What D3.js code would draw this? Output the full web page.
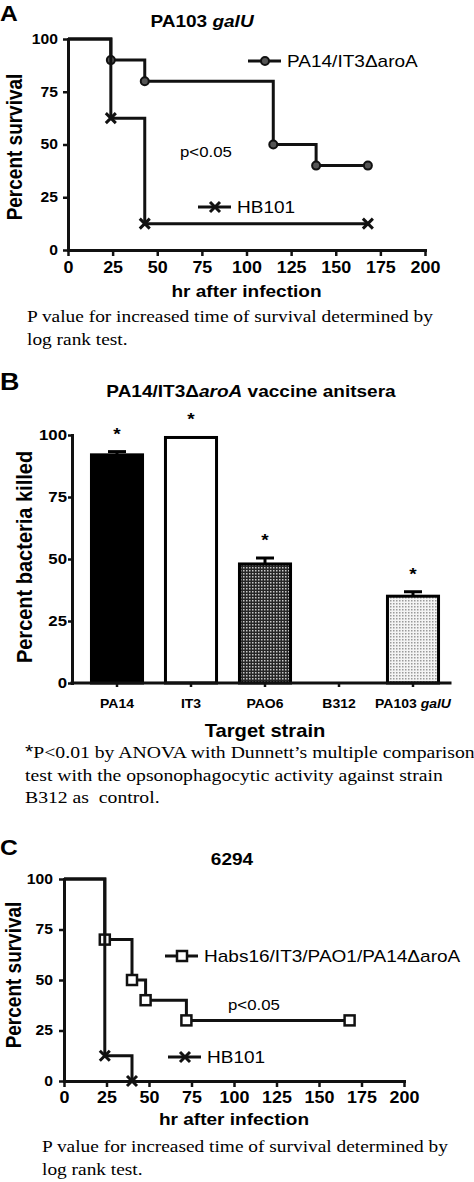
<!DOCTYPE html>
<html lang="en">
<head>
<meta charset="UTF-8"/>
<title>Survival and opsonophagocytic killing</title>
<script src="https://d3js.org/d3.v7.min.js"></script>
<style>
  body { margin: 0; background: #fff; }
  svg { display: block; }
  text { white-space: pre; }
</style>
</head>
<body>
<script>
// ---- panel A : PA103 galU challenge ----
var hoursA_pa14 = [0, 24, 43, 115, 139, 168];
var survA_pa14 = [100, 90, 80, 50, 40, 40];
var hoursA_hb101 = [0, 24, 43, 168];
var survA_hb101 = [100, 62.5, 12.5, 12.5];

// ---- panel B : vaccine antisera killing ----
var strains = ["PA14", "IT3", "PAO6", "B312", "PA103 galU"];
var killed = [92, 99, 48, 0, 35];
var killedErr = [1.3, 0, 2.4, 0, 1.8];
var significant = [true, true, true, false, true];

// ---- panel C : 6294 challenge ----
var hoursC_habs = [0, 24, 40, 48, 72, 168];
var survC_habs = [100, 70, 50, 40, 30, 30];
var hoursC_hb101 = [0, 24, 40];
var survC_hb101 = [100, 12.5, 0];

var hourTicks = [0, 25, 50, 75, 100, 125, 150, 175, 200];
var pctTicks = [0, 25, 50, 75, 100];

var W = 474, H = 1182;
var SX = 1.12;   // the source figure is a little stretched sideways
var SANS = "'Liberation Sans', Arial, sans-serif";
var SERIF = "'Liberation Serif', 'Times New Roman', serif";
var INK = "#111";

var svg = d3.select("body").append("svg")
    .attr("width", W)
    .attr("height", H);

var defs = svg.append("defs");
function dotPattern(id, bg, dot) {
    var p = defs.append("pattern")
        .attr("id", id)
        .attr("width", 3).attr("height", 3)
        .attr("patternUnits", "userSpaceOnUse");
    p.append("rect").attr("width", 3).attr("height", 3).attr("fill", bg);
    p.append("rect").attr("width", 1.5).attr("height", 1.5).attr("fill", dot);
}
dotPattern("darkDots", "#262626", "#c8c8c8");
dotPattern("lightDots", "#f4f4f4", "#9a9a9a");
var barFills = ["#000", "#fff", "url(#darkDots)", "#fff", "url(#lightDots)"];

// text helper: parts = string or [[str, italic, family, size], ...]
function txt(g, x, y, parts, size, opt) {
    opt = opt || {};
    var tf = "translate(" + x + "," + y + ") scale(" + SX + ",1)";
    if (opt.rotate) tf += " rotate(-90)";
    var t = g.append("text")
        .attr("transform", tf)
        .attr("font-family", opt.serif ? SERIF : SANS)
        .attr("font-size", size)
        .attr("font-weight", opt.bold ? "bold" : "normal")
        .attr("text-anchor", opt.anchor || "start")
        .attr("fill", "#000");
    if (typeof parts === "string") parts = [[parts, false]];
    parts.forEach(function (p) {
        var s = t.append("tspan").text(p[0]);
        if (p[1]) s.attr("font-style", "italic");
        if (p[2]) s.attr("font-family", p[2]);
        if (p[3]) s.attr("font-size", p[3]);
    });
    return t;
}

function styleAxis(a, size, orient, gap) {
    a.select(".domain").attr("stroke", INK).attr("stroke-width", 3)
        .attr("stroke-linecap", "square");
    a.selectAll(".tick line").attr("stroke", INK).attr("stroke-width", 2.5);
    var t = a.selectAll(".tick text")
        .attr("fill", "#000")
        .attr("font-family", SANS)
        .attr("font-weight", "bold")
        .attr("font-size", size)
        .attr("transform", "scale(" + SX + ",1)");
    if (orient === "left") t.attr("x", -gap / SX);
    else t.attr("y", gap).attr("dy", null);
}

function marker(g, type, cx, cy) {
    if (type === "circle") {
        g.append("circle").attr("cx", cx).attr("cy", cy).attr("r", 4)
            .attr("fill", "#555").attr("stroke", INK).attr("stroke-width", 2);
    } else if (type === "cross") {
        g.append("path")
            .attr("d", "M" + (cx - 5) + "," + (cy - 5) + "L" + (cx + 5) + "," + (cy + 5) +
                       "M" + (cx - 5) + "," + (cy + 5) + "L" + (cx + 5) + "," + (cy - 5))
            .attr("stroke", INK).attr("stroke-width", 3).attr("fill", "none");
    } else {
        g.append("rect").attr("x", cx - 5).attr("y", cy - 5)
            .attr("width", 10).attr("height", 10)
            .attr("fill", "#fff").attr("stroke", INK).attr("stroke-width", 2.5);
    }
}

function survivalPanel(cfg) {
    var g = svg.append("g");
    var x = d3.scaleLinear().domain([0, 200]).range([cfg.x0, cfg.x1]);
    var y = d3.scaleLinear().domain([0, 100]).range([cfg.y0, cfg.y1]);

    var ax = g.append("g").attr("transform", "translate(0," + cfg.y0 + ")")
        .call(d3.axisBottom(x).tickValues(hourTicks).tickSize(6).tickSizeOuter(0));
    styleAxis(ax, 16, "bottom", cfg.xLabelGap);
    var ay = g.append("g").attr("transform", "translate(" + cfg.x0 + ",0)")
        .call(d3.axisLeft(y).tickValues(pctTicks).tickSize(5).tickSizeOuter(0));
    styleAxis(ay, 14, "left", cfg.yLabelGap);

    var line = d3.line()
        .x(function (d) { return x(d[0]); })
        .y(function (d) { return y(d[1]); })
        .curve(d3.curveStepAfter);

    cfg.series.forEach(function (s) {
        var pts = d3.zip(s.hours, s.surv);
        g.append("path").datum(pts)
            .attr("d", line)
            .attr("fill", "none")
            .attr("stroke", INK)
            .attr("stroke-width", 3);
        pts.slice(1).forEach(function (p) { marker(g, s.marker, x(p[0]), y(p[1])); });
        // legend entry
        var lg = s.legend;
        g.append("line").attr("x1", lg.x).attr("x2", lg.x + 33)
            .attr("y1", lg.y).attr("y2", lg.y)
            .attr("stroke", INK).attr("stroke-width", 3);
        marker(g, s.marker, lg.x + 17, lg.y);
        txt(g, lg.x + 39, lg.y + 6, s.name, 17);
    });

    txt(g, cfg.p[0], cfg.p[1], "p<0.05", 15);
    txt(g, cfg.title[0], cfg.title[1], cfg.titleText, 17, { bold: true, anchor: "middle" });
    txt(g, cfg.letter[0], cfg.letter[1], cfg.letterText, cfg.letterSize, { bold: true });
    txt(g, (cfg.x0 + cfg.x1) / 2, cfg.xTitleY, "hr after infection", 17, { bold: true, anchor: "middle" });
    txt(g, cfg.yTitle[0], cfg.yTitle[1], "Percent survival", 19, { bold: true, anchor: "middle", rotate: true });
    cfg.caption.forEach(function (c) { txt(g, c[0], c[1], c[2], 17.3, { serif: true }); });
}

// ---------- panel A ----------
survivalPanel({
    x0: 68, x1: 425, y0: 250, y1: 39,
    xLabelGap: 23, yLabelGap: 10,
    series: [
        { hours: hoursA_pa14, surv: survA_pa14, marker: "circle", name: "PA14/IT3\u0394aroA", legend: { x: 248, y: 61 } },
        { hours: hoursA_hb101, surv: survA_hb101, marker: "cross", name: "HB101", legend: { x: 198, y: 207 } }
    ],
    p: [180, 157],
    title: [202, 27], titleText: [["PA103 ", false], ["galU", true]],
    letter: [0, 21], letterText: "A", letterSize: 22,
    xTitleY: 297,
    yTitle: [22, 147],
    caption: [[27, 322, "P value for increased time of survival determined by"],
              [27, 345, "log rank test."]]
});

// ---------- panel B ----------
(function () {
    var g = svg.append("g");
    var x = d3.scaleBand().domain(strains).range([80, 450])
        .paddingInner(0.31).paddingOuter(0.155);
    var y = d3.scaleLinear().domain([0, 100]).range([683, 435]);

    g.selectAll("rect.bar").data(strains).enter().append("rect")
        .attr("class", "bar")
        .attr("x", function (d) { return x(d); })
        .attr("y", function (d, i) { return y(killed[i]); })
        .attr("width", x.bandwidth())
        .attr("height", function (d, i) { return y(0) - y(killed[i]); })
        .attr("fill", function (d, i) { return barFills[i]; })
        .attr("stroke", "#000")
        .attr("stroke-width", 3)
        .attr("display", function (d, i) { return killed[i] > 0 ? null : "none"; });

    strains.forEach(function (d, i) {
        var cx = x(d) + x.bandwidth() / 2;
        var top = y(killed[i] + killedErr[i]);
        if (killedErr[i] > 0) {
            g.append("line").attr("x1", cx).attr("x2", cx)
                .attr("y1", y(killed[i])).attr("y2", top)
                .attr("stroke", "#000").attr("stroke-width", 3);
            g.append("line").attr("x1", cx - 9).attr("x2", cx + 9)
                .attr("y1", top).attr("y2", top)
                .attr("stroke", "#000").attr("stroke-width", 3);
        }
        if (significant[i]) txt(g, cx, top - 12, "*", 17, { bold: true, anchor: "middle" });
    });

    var ax = g.append("g").attr("transform", "translate(0,683)")
        .call(d3.axisBottom(x).tickSize(4).tickSizeOuter(0).tickFormat(""));
    ax.select(".domain").attr("d", "M72,0H450");
    styleAxis(ax, 13, "bottom", 25);
    var ay = g.append("g").attr("transform", "translate(72,0)")
        .call(d3.axisLeft(y).tickValues(pctTicks).tickSize(4).tickSizeOuter(0));
    styleAxis(ay, 15, "left", 5);

    strains.forEach(function (d) {
        var cx = x(d) + x.bandwidth() / 2;
        var w = d.split(" ");
        var parts = w.length > 1 ? [[w[0] + " ", false], [w[1], true]] : [[d, false]];
        txt(g, cx, 708, parts, 12.5, { bold: true, anchor: "middle" });
    });

    txt(g, 251, 397, [["PA14/IT3\u0394", false], ["aroA", true], [" vaccine anitsera", false]], 17,
        { bold: true, anchor: "middle" });
    txt(g, 0, 390, "B", 24, { bold: true });
    txt(g, 265, 737, "Target strain", 18, { bold: true, anchor: "middle" });
    txt(g, 32, 557, "Percent bacteria killed", 20, { bold: true, anchor: "middle", rotate: true });

    txt(g, 25, 758, [["*", false, SANS, 19], ["P<0.01 by ANOVA with Dunnett\u2019s multiple comparison", false]], 17.6, { serif: true });
    txt(g, 25, 781, "test with the opsonophagocytic activity against strain", 17.6, { serif: true });
    txt(g, 25, 803, "B312 as  control.", 17.6, { serif: true });
})();

// ---------- panel C ----------
survivalPanel({
    x0: 64, x1: 404, y0: 1081, y1: 879,
    xLabelGap: 22, yLabelGap: 11,
    series: [
        { hours: hoursC_habs, surv: survC_habs, marker: "square", name: "Habs16/IT3/PAO1/PA14\u0394aroA", legend: { x: 165, y: 956 } },
        { hours: hoursC_hb101, surv: survC_hb101, marker: "cross", name: "HB101", legend: { x: 168, y: 1057 } }
    ],
    p: [228, 1010],
    title: [232, 865], titleText: "6294",
    letter: [0, 855], letterText: "C", letterSize: 22,
    xTitleY: 1125,
    yTitle: [21, 975],
    caption: [[42, 1152, "P value for increased time of survival determined by"],
              [42, 1175, "log rank test."]]
});
</script>
</body>
</html>
